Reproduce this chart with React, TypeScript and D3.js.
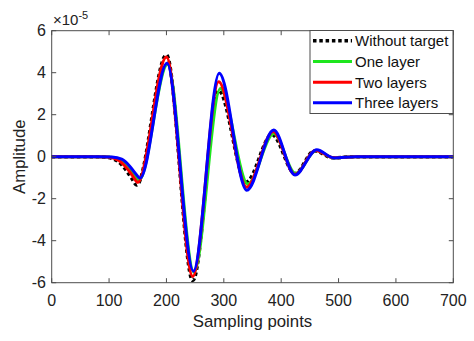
import React from "react";
import * as d3 from "d3";

const xTicks = [0, 100, 200, 300, 400, 500, 600, 700];
const yTicks = [-6, -4, -2, 0, 2, 4, 6];

const seriesNames = ["Without target", "One layer", "Two layers", "Three layers"];
const seriesColors = ["#000000", "#1ee61e", "#ff0000", "#0000ff"];

const blackX = [0, 70, 95, 115, 130, 140, 148, 200, 246, 291, 339, 384, 424, 458, 490, 530, 700];
const blackY = [0, 0, -0.03, -0.22, -0.65, -1.05, -1.35, 4.85, -5.9, 3.15, -1.2, 1.05, -0.8, 0.28, -0.05, 0, 0];

const greenX = [0, 75, 100, 120, 134, 144, 152, 202, 248, 294, 342, 387, 425, 461, 492, 530, 700];
const greenY = [0, 0, -0.02, -0.15, -0.5, -0.85, -1.12, 4.4, -5.5, 3.25, -1.3, 1.1, -0.8, 0.3, -0.06, 0, 0];

const redX = [0, 72, 97, 117, 132, 142, 150, 200, 246, 291, 340, 386, 424, 460, 491, 530, 700];
const redY = [0, 0, -0.02, -0.18, -0.58, -0.95, -1.22, 4.75, -5.7, 3.57, -1.45, 1.2, -0.85, 0.3, -0.05, 0, 0];

const blueX = [0, 80, 105, 122, 136, 146, 154, 201, 247, 292, 340, 387, 424, 462, 492, 530, 700];
const blueY = [0, 0, -0.02, -0.12, -0.45, -0.8, -1.02, 4.45, -5.45, 3.97, -1.6, 1.27, -0.87, 0.33, -0.06, 0, 0];

const seriesX = [blackX, greenX, redX, blueX];
const seriesY = [blackY, greenY, redY, blueY];

const W = 474;
const H = 341;
const L = 51.7, R = 453.3, T = 30.7, B = 282.7;

export default function App() {
  const x = d3.scaleLinear().domain([0, 700]).range([L, R]);
  const y = d3.scaleLinear().domain([-6, 6]).range([B, T]);
  const line = d3
    .line<[number, number]>()
    .x((d) => x(d[0]))
    .y((d) => y(d[1]))
    .curve(d3.curveMonotoneX);

  const font = "Liberation Sans, Arial, sans-serif";
  const axisColor = "#4d4d4d";
  const tl = 4.5;

  const legX = 310, legY = 30.5, legW = 143, legH = 83;
  const rowY = [40.7, 61.5, 82.2, 102.7];

  return (
    <svg
      width={W}
      height={H}
      style={{ position: "absolute", left: 0, top: 0, background: "#fff" }}
      fontFamily={font}
    >
      <rect x={0} y={0} width={W} height={H} fill="#fff" />
      {seriesX.map((xs, i) => {
        const pts = xs.map((v, j) => [v, seriesY[i][j]] as [number, number]);
        return (
          <path
            key={i}
            d={line(pts) || ""}
            fill="none"
            stroke={seriesColors[i]}
            strokeWidth={i === 0 ? 3.5 : 3}
            strokeDasharray={i === 0 ? "3.5 2.8" : undefined}
            strokeLinejoin="round"
          />
        );
      })}
      <rect x={L} y={T} width={R - L} height={B - T} fill="none" stroke={axisColor} strokeWidth={1} />
      {xTicks.map((t) => (
        <g key={"x" + t}>
          <line x1={x(t)} x2={x(t)} y1={B} y2={B - tl} stroke={axisColor} />
          <line x1={x(t)} x2={x(t)} y1={T} y2={T + tl} stroke={axisColor} />
          <text x={x(t)} y={306} fontSize={16} textAnchor="middle" fill="#222">
            {t}
          </text>
        </g>
      ))}
      {yTicks.map((t) => (
        <g key={"y" + t}>
          <line x1={L} x2={L + tl} y1={y(t)} y2={y(t)} stroke={axisColor} />
          <line x1={R} x2={R - tl} y1={y(t)} y2={y(t)} stroke={axisColor} />
          <text x={46} y={y(t) + 5.5} fontSize={16} textAnchor="end" fill="#222">
            {t}
          </text>
        </g>
      ))}
      <text x={53} y={25} fontSize={15} fill="#222">
        ×10
        <tspan dy={-6} fontSize={11}>-5</tspan>
      </text>
      <text x={(L + R) / 2} y={327} fontSize={16.8} textAnchor="middle" fill="#222">
        Sampling points
      </text>
      <text
        transform={`translate(25, ${(T + B) / 2}) rotate(-90)`}
        fontSize={16.8}
        textAnchor="middle"
        fill="#222"
      >
        Amplitude
      </text>
      <rect x={legX} y={legY} width={legW} height={legH} fill="#fff" stroke={axisColor} strokeWidth={1} />
      {seriesNames.map((n, i) => (
        <g key={n}>
          <line
            x1={313}
            x2={352}
            y1={rowY[i]}
            y2={rowY[i]}
            stroke={seriesColors[i]}
            strokeWidth={i === 0 ? 3.5 : 3}
            strokeDasharray={i === 0 ? "3.5 2.8" : undefined}
          />
          <text x={355} y={rowY[i] + 5.5} fontSize={15} fill="#111">
            {n}
          </text>
        </g>
      ))}
    </svg>
  );
}
